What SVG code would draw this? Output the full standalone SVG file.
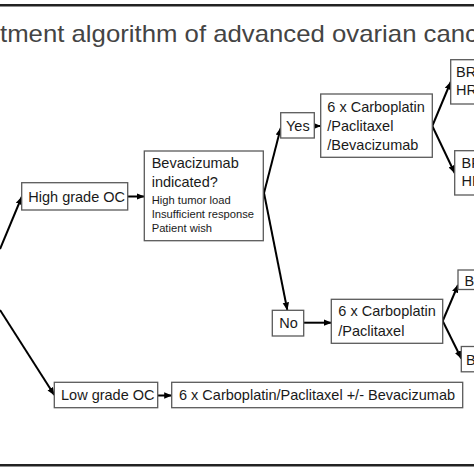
<svg xmlns="http://www.w3.org/2000/svg" width="474" height="474" viewBox="0 0 474 474">
<defs>
<style>
.box{fill:#fff;stroke:#5a5a5a;stroke-width:1.3}
.t{font-family:"Liberation Sans",Arial,sans-serif;font-size:14.5px;fill:#1a1a1a}
.s{font-family:"Liberation Sans",Arial,sans-serif;font-size:11.2px;fill:#1a1a1a}
.title{font-family:"Liberation Sans",Arial,sans-serif;font-size:24px;fill:#444}
.c{stroke:#000;stroke-width:2;fill:none;marker-end:url(#ah)}
.rule{stroke:#222;stroke-width:2.5}
</style>
<marker id="ah" markerUnits="userSpaceOnUse" markerWidth="8" markerHeight="8" viewBox="0 0 8 8" refX="7.5" refY="4" orient="auto">
<path d="M0,0.8 L8,4 L0,7.2 Z" fill="#000"/>
</marker>
</defs>
<rect width="474" height="474" fill="#fff"/>
<line class="rule" x1="0" y1="5.3" x2="474" y2="5.3"/>
<line class="rule" x1="0" y1="465.3" x2="474" y2="465.3"/>
<text class="title" x="0" y="42" textLength="478" lengthAdjust="spacingAndGlyphs">tment algorithm of advanced ovarian canc</text>

<g id="connectors">
<line class="c" x1="0" y1="249" x2="21.7" y2="197"/>
<line class="c" x1="0" y1="310" x2="54.3" y2="395"/>
<line class="c" x1="127.7" y1="196.5" x2="144.3" y2="196.5"/>
<line class="c" x1="157.7" y1="395.5" x2="171.7" y2="395.5"/>
<line class="c" x1="264" y1="193" x2="280.7" y2="128"/>
<line class="c" x1="264" y1="193" x2="287.3" y2="310"/>
<line class="c" x1="314.3" y1="126" x2="320.7" y2="126"/>
<line class="c" x1="303.7" y1="322.7" x2="331.3" y2="322.7"/>
<line class="c" x1="432.3" y1="126" x2="450.7" y2="82"/>
<line class="c" x1="432.3" y1="126" x2="454.7" y2="173"/>
<line class="c" x1="442.7" y1="321" x2="458" y2="285"/>
<line class="c" x1="442.7" y1="321" x2="461.3" y2="358.5"/>
</g>

<g id="high-grade">
<rect class="box" x="21.7" y="182.7" width="106" height="27.3"/>
<text class="t" x="28.3" y="202.3">High grade OC</text>
</g>
<g id="bev-indicated">
<rect class="box" x="144.3" y="151" width="119" height="89.7"/>
<text class="t" x="151.7" y="168.3">Bevacizumab</text>
<text class="t" x="151.7" y="186.7">indicated?</text>
<text class="s" x="151.7" y="204.3">High tumor load</text>
<text class="s" x="151.7" y="218">Insufficient response</text>
<text class="s" x="151.7" y="232">Patient wish</text>
</g>
<g id="yes">
<rect class="box" x="280.7" y="112.7" width="33.6" height="25.3"/>
<text class="t" x="286" y="131">Yes</text>
</g>
<g id="no">
<rect class="box" x="272.3" y="310.3" width="31.4" height="25.7"/>
<text class="t" x="279.3" y="328.3">No</text>
</g>
<g id="cpb">
<rect class="box" x="320.7" y="94" width="111.6" height="63.3"/>
<text class="t" x="327.3" y="111.7">6 x Carboplatin</text>
<text class="t" x="327.3" y="131">/Paclitaxel</text>
<text class="t" x="327.3" y="150">/Bevacizumab</text>
</g>
<g id="cp">
<rect class="box" x="331.3" y="299.3" width="111.4" height="44"/>
<text class="t" x="338.3" y="316">6 x Carboplatin</text>
<text class="t" x="338.3" y="335.7">/Paclitaxel</text>
</g>
<g id="br-top">
<rect class="box" x="450.7" y="59.7" width="30" height="44.3"/>
<text class="t" x="456" y="76.7">BR</text>
<text class="t" x="456" y="94.5">HR</text>
</g>
<g id="br-bottom">
<rect class="box" x="454.7" y="150.7" width="30" height="44.3"/>
<text class="t" x="461.5" y="168.3">BR</text>
<text class="t" x="461.5" y="186">HR</text>
</g>
<g id="b-upper">
<rect class="box" x="458" y="270" width="30" height="19.5"/>
<text class="t" x="464.5" y="286">B-</text>
</g>
<g id="b-lower">
<rect class="box" x="461.3" y="346.5" width="30" height="25.3"/>
<text class="t" x="466" y="364.5">B</text>
</g>
<g id="low-grade">
<rect class="box" x="54.3" y="382.3" width="103.4" height="25.4"/>
<text class="t" x="61" y="400">Low grade OC</text>
</g>
<g id="low-treatment">
<rect class="box" x="171.7" y="382.3" width="291" height="25.4"/>
<text class="t" x="179" y="400">6 x Carboplatin/Paclitaxel +/- Bevacizumab</text>
</g>
</svg>
